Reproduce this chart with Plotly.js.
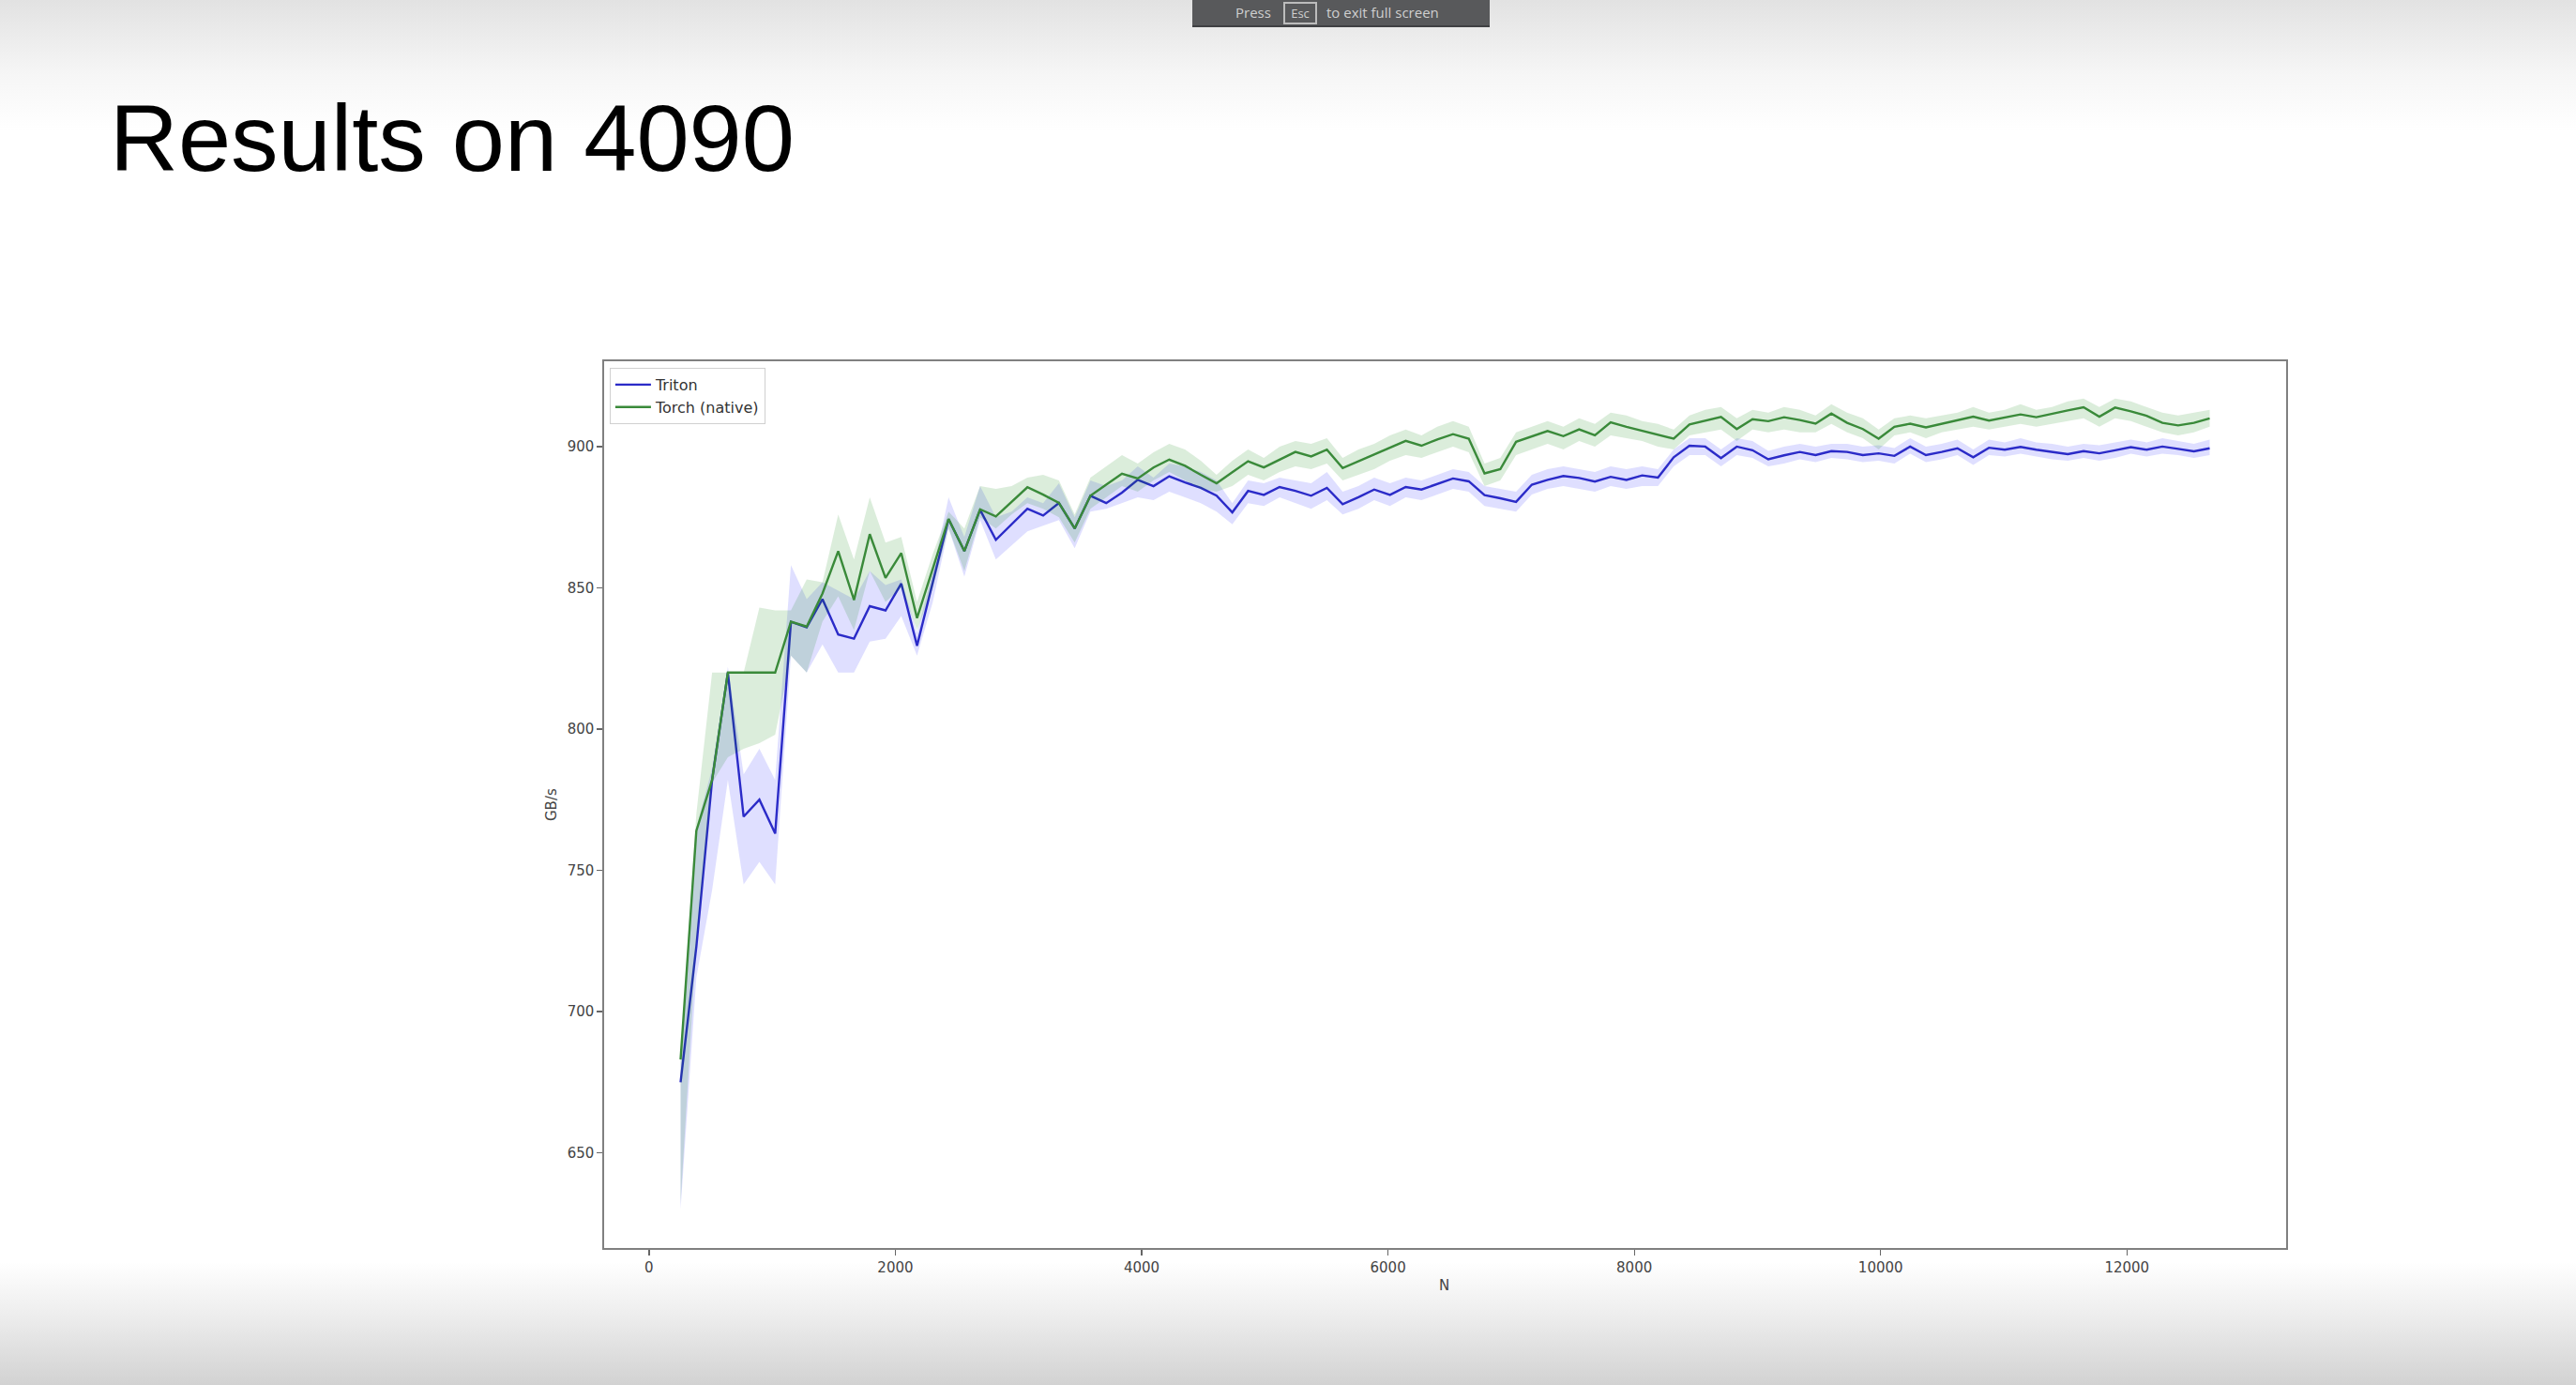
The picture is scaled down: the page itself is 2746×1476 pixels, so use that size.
<!DOCTYPE html>
<html>
<head>
<meta charset="utf-8">
<script src="https://cdn.plot.ly/plotly-3.0.1.min.js"></script>
<style>
  html, body { margin: 0; padding: 0; }
  body {
    width: 2746px; height: 1476px; overflow: hidden; position: relative;
    background: linear-gradient(to bottom, #e2e2e2 0px, #f6f6f6 80px, #ffffff 140px, #ffffff 1345px, #ececec 1405px, #d2d2d2 1476px);
  }
  #chart { position: absolute; left: 0; top: 0; width: 2746px; height: 1476px; }
  #esc {
    position: absolute; left: 1271px; top: 0; width: 317px; height: 27px;
    background: #58595b; border-bottom: 2px solid #404143; overflow: hidden;
    font-family: "Open Sans", sans-serif; font-size: 15px; color: #cfcfcf;
  }
  #esc span.t { position: absolute; top: 3px; white-space: nowrap; }
  #esc span.k { position: absolute; left: 97px; top: 2px; width: 32px; height: 20px; border: 2px solid #bcbcbc;
                font-size: 13px; text-align: center; line-height: 20px; }
</style>
</head>
<body>
<div id="chart"></div>
<div id="esc"><span class="t" style="left:46px">Press</span><span class="k">Esc</span><span class="t" style="left:143px">to exit full screen</span></div>
<script>
// matrix sizes N (x axis)
var sizes = [256, 384, 512, 640, 768, 896, 1024, 1152, 1280, 1408, 1536, 1664, 1792, 1920, 2048, 2176,
  2304, 2432, 2560, 2688, 2816, 2944, 3072, 3200, 3328, 3456, 3584, 3712, 3840, 3968, 4096, 4224,
  4352, 4480, 4608, 4736, 4864, 4992, 5120, 5248, 5376, 5504, 5632, 5760, 5888, 6016, 6144, 6272,
  6400, 6528, 6656, 6784, 6912, 7040, 7168, 7296, 7424, 7552, 7680, 7808, 7936, 8064, 8192, 8320,
  8448, 8576, 8704, 8832, 8960, 9088, 9216, 9344, 9472, 9600, 9728, 9856, 9984, 10112, 10240, 10368,
  10496, 10624, 10752, 10880, 11008, 11136, 11264, 11392, 11520, 11648, 11776, 11904, 12032, 12160,
  12288, 12416, 12544, 12672];

// Triton GB/s (median, low and high quantile)
var triton = [675, 723, 782, 820, 769, 775, 763, 838, 836, 846, 833.5, 832, 843.5, 842, 851.5, 829.5,
  852, 874.3, 863, 877.6, 867, 872.5, 878, 875.6, 880, 871, 882.6, 880, 883.7, 888.2, 886, 889.5,
  887.3, 885.4, 882.6, 876.7, 884.3, 882.9, 885.7, 884.3, 882.6, 885.4, 879.6, 882.1, 884.8, 882.9, 885.7, 884.8,
  886.8, 888.7, 887.7, 882.8, 881.7, 880.4, 886.5, 888.2, 889.6, 888.9, 887.6, 889.3, 888.2, 889.8, 889, 896.2,
  900.3, 900, 895.9, 900, 898.7, 895.5, 896.9, 898.1, 897, 898.4, 898.1, 897, 897.6, 896.7, 900, 897,
  898.1, 899.4, 896.2, 899.6, 898.9, 899.9, 898.9, 898.1, 897.3, 898.4, 897.6, 898.7, 899.8, 898.9,
  900, 899.2, 898.3, 899.4];
var tritonLo = [630, 712, 743, 782, 745, 753, 745, 826, 820, 830, 820, 820, 831, 832, 840, 826,
  845, 871, 854, 874, 860, 865, 870, 872, 874, 864, 877, 878, 880, 882, 881, 884,
  882, 880, 877, 872.5, 880, 879, 882, 880, 878, 881, 876, 878, 881, 879, 882, 881,
  883, 885, 884, 879, 878, 877, 883, 885, 886, 885, 884, 886, 885, 886, 886, 893,
  897, 897, 893, 897, 896, 893, 894, 895.5, 894.5, 896, 895.5, 894.5, 895, 894, 897.5, 894.5,
  895.5, 897, 893.5, 897, 896.5, 897.5, 896.5, 895.5, 895, 896, 895, 896, 897.5, 896.5,
  897.5, 897, 896, 897];
var tritonHi = [681, 765, 786, 822, 784, 793, 782, 858, 846, 852, 849, 846, 856, 851, 853, 834,
  856, 882, 868, 886, 875, 877, 882, 880, 887, 875, 888, 886, 888, 893, 889, 894,
  893, 891, 888, 880, 888, 887, 889, 888, 887, 891, 884, 886, 889, 887, 889, 888,
  890, 892, 891, 886, 885, 884, 890, 892, 893, 892, 891, 893, 892, 893, 892, 899,
  903, 903, 899, 903, 902, 898.5, 900, 901, 900, 901, 901, 900, 900.5, 899.5, 903, 900,
  901, 902.5, 899, 902.5, 901.5, 903, 901.5, 901, 900, 901, 900.5, 901.5, 902.5, 901.5,
  903, 902, 901, 902.5];

// Torch (native) GB/s
var torch = [683, 764, 782, 820, 820, 820, 820, 838, 836.3, 848, 863, 845.7, 869, 853.5, 862.3, 839.3,
  856.5, 874.4, 863, 877.8, 875.3, 880.4, 885.6, 883, 880.1, 871, 882.6, 886.5, 890.4, 888.7, 892.6, 895.4,
  893.2, 890, 887, 890.9, 894.8, 892.6, 895.3, 898.1, 896.5, 898.9, 892.4, 894.8, 897.2, 899.6, 902, 900.3,
  902.5, 904.4, 902.8, 890.5, 892, 901.7, 903.7, 905.5, 903.7, 906.1, 904, 908.6, 907, 905.6, 904.2, 902.8,
  907.8, 909.2, 910.5, 906.2, 909.7, 909, 910.4, 909.4, 908.1, 911.7, 908.4, 906.2, 902.8, 907, 908.1, 906.8,
  908.1, 909.2, 910.6, 909.2, 910.3, 911.4, 910.4, 911.7, 912.8, 913.9, 910.6, 913.8, 912.5, 910.9,
  908.4, 907.5, 908.4, 910];
var torchLo = [632, 724, 781, 790, 793, 795, 798, 826, 820, 838, 847, 835, 856, 845, 850, 835,
  850, 871, 856, 875, 871, 876, 880, 878, 875, 866, 878, 882, 886, 884, 888, 891,
  888, 885, 884, 886, 890, 888, 891, 893, 892, 894, 888, 890, 892, 895, 897, 896,
  898, 900, 898, 886, 888, 897, 899, 901, 899, 902, 900, 904, 903, 902, 900, 899,
  904, 905, 906, 902, 906, 905, 906, 905, 905, 908, 905, 903, 899, 904, 905, 903,
  905, 906, 907, 906, 907, 908, 907, 908, 909, 910, 907, 910, 909, 907,
  905, 904, 905, 907];
var torchHi = [685, 770, 820, 820, 820, 843, 842, 842, 853, 852, 876, 860, 882, 866, 868, 845,
  862, 877, 871, 886, 885, 886, 889, 890, 888, 876, 889, 893, 897, 894, 898, 901,
  899, 895, 890, 895, 899, 896, 900, 902, 901, 903, 896, 899, 901, 904, 906, 904,
  907, 909, 907, 894, 896, 905, 907, 909, 907, 910, 908, 912, 911, 909, 908, 906,
  911, 913, 914, 910, 913, 912, 914, 913, 911, 915, 912, 910, 906, 910, 911, 910,
  911, 912, 914, 912, 913, 915, 913, 914, 916, 917, 914, 917, 916, 914,
  912, 911, 912, 913];

var xTicks = [0, 2000, 4000, 6000, 8000, 10000, 12000];
var yTicks = [650, 700, 750, 800, 850, 900];

function band(lo, hi, fill){
    return [
      {x: sizes, y: lo, mode: 'lines', line: {width: 0}, showlegend: false, hoverinfo: 'skip'},
      {x: sizes, y: hi, mode: 'lines', line: {width: 0}, fill: 'tonexty', fillcolor: fill,
       showlegend: false, hoverinfo: 'skip'}
    ];
}

var data = [].concat(
    band(tritonLo, tritonHi, 'rgba(40,40,255,0.15)'),
    [{x: sizes, y: triton, mode: 'lines', name: 'Triton', line: {color: '#2b2bc8', width: 2.4}}],
    band(torchLo, torchHi, 'rgba(0,128,0,0.14)'),
    [{x: sizes, y: torch, mode: 'lines', name: 'Torch (native)', line: {color: '#3a8a3a', width: 2.4}}]
);

var tickFont = {family: 'DejaVu Sans', size: 15, color: '#444'};

var layout = {
    width: 2746, height: 1476,
    margin: {l: 644, r: 309, t: 385, b: 146},
    paper_bgcolor: 'rgba(0,0,0,0)',
    plot_bgcolor: '#ffffff',
    title: {text: 'Results on 4090', x: 0.0426, xanchor: 'left', xref: 'container',
            y: 0.9007, yanchor: 'middle', yref: 'container',
            font: {family: 'Liberation Sans', size: 101, color: '#000'}},
    xaxis: {range: [-364.8, 13292.8], tickvals: xTicks, ticktext: xTicks.map(String),
            showgrid: false, zeroline: false, showline: true, mirror: true,
            linecolor: '#808080', linewidth: 1.6, ticks: 'outside', ticklen: 6,
            tickwidth: 1.3, tickcolor: '#666', tickfont: tickFont},
    yaxis: {range: [616.3, 930.2], tickvals: yTicks, ticktext: yTicks.map(String),
            showgrid: false, zeroline: false, showline: true, mirror: true,
            linecolor: '#808080', linewidth: 1.6, ticks: 'outside', ticklen: 6,
            tickwidth: 1.3, tickcolor: '#666', tickfont: tickFont},
    legend: {x: 0.0033, y: 0.9926, xanchor: 'left', yanchor: 'top', traceorder: 'normal',
             bgcolor: 'rgba(255,255,255,0.9)', bordercolor: '#d0d0d0', borderwidth: 1,
             font: {family: 'DejaVu Sans', size: 16, color: '#333'}, itemwidth: 38},
    annotations: [
        {text: 'GB/s', xref: 'paper', yref: 'paper', x: -0.0312, y: 0.4995, textangle: -90,
         showarrow: false, xanchor: 'center', yanchor: 'middle', font: tickFont},
        {text: 'N', xref: 'paper', yref: 'paper', x: 0.4992, y: -0.0423,
         showarrow: false, xanchor: 'center', yanchor: 'middle', font: tickFont}
    ]
};

Plotly.newPlot(document.getElementById('chart'), data, layout, {displayModeBar: false, staticPlot: true});
</script>
</body>
</html>
